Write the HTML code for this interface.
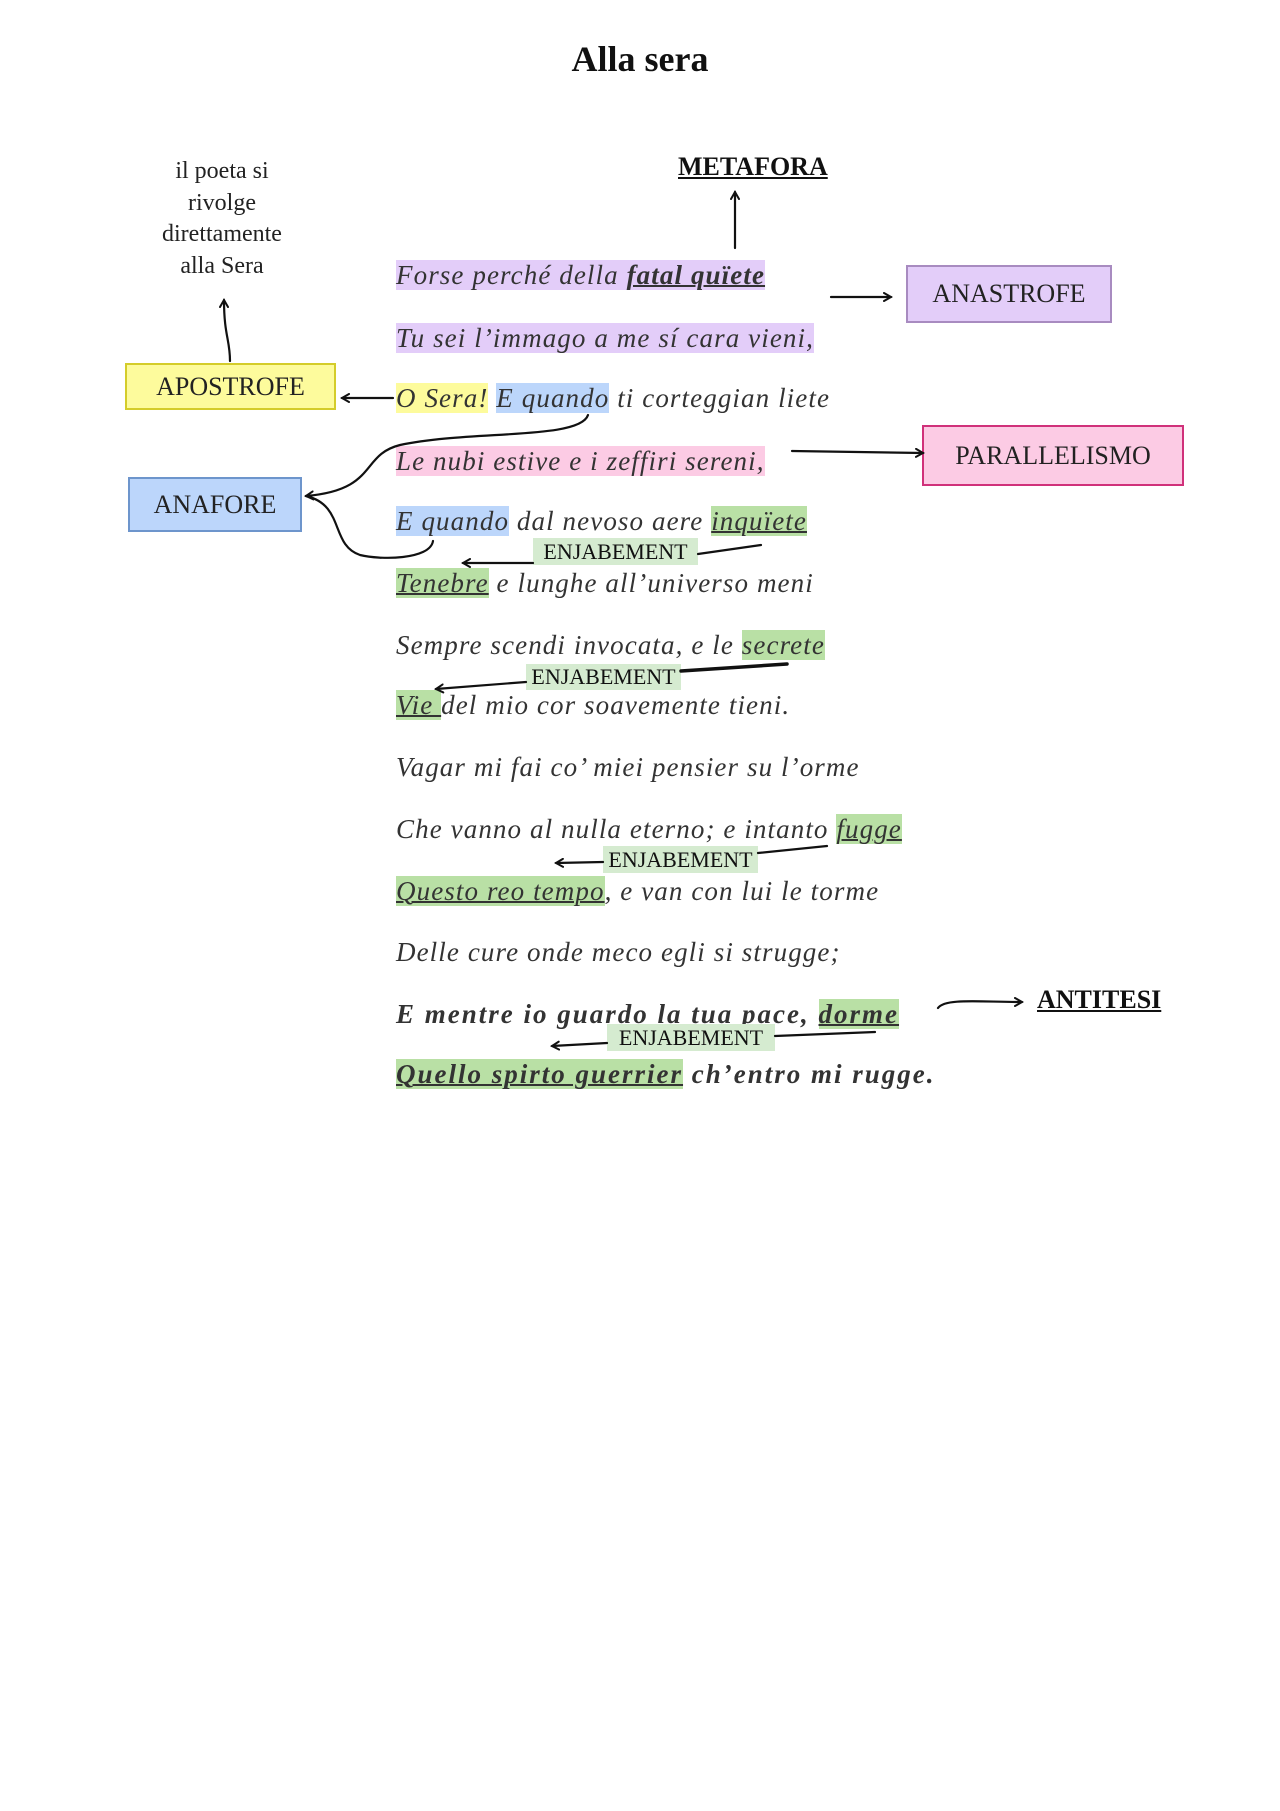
<!DOCTYPE html>
<html><head><meta charset="utf-8"><style>
body{margin:0;background:#fff;}
#p{position:relative;width:1280px;height:1811px;font-family:"Liberation Serif",serif;color:#222;overflow:hidden}
.a{position:absolute;white-space:nowrap}
.l{position:absolute;left:396px;font-style:italic;font-size:27px;letter-spacing:1.1px;line-height:32px;white-space:nowrap;color:#333}
.pu{background:#e3cdf9}.ye{background:#fdfb9c}.bl{background:#bcd6fb}.pk{background:#fccbe4}.gr{background:#b9e0a5}
u{text-decoration-thickness:2px}
.box{position:absolute;display:flex;align-items:center;justify-content:center;font-size:26px;box-sizing:border-box;border:2px solid}
.enj{position:absolute;background:#d5ebd0;font-size:22px;display:flex;align-items:center;justify-content:center;color:#111}
</style></head><body><div id="p">
<div class="a" style="left:0;width:1280px;text-align:center;top:38px;font-size:36px;font-weight:bold;color:#111">Alla sera</div>
<div class="a" style="left:122px;width:200px;text-align:center;top:156px;font-size:24px;line-height:31.5px;white-space:normal;color:#222">il poeta si<br>rivolge<br>direttamente<br>alla Sera</div>
<div class="a" style="left:678px;top:152px;font-size:26px;font-weight:bold;text-decoration:underline;color:#111">METAFORA</div>
<div class="a" style="left:1037px;top:985px;font-size:26px;font-weight:bold;text-decoration:underline;color:#111">ANTITESI</div>

<div class="box" style="left:125px;top:363px;width:211px;height:47px;background:#fdfb9c;border-color:#d4cc2a">APOSTROFE</div>
<div class="box" style="left:128px;top:477px;width:174px;height:55px;background:#bcd6fb;border-color:#6d95cc">ANAFORE</div>
<div class="box" style="left:906px;top:265px;width:206px;height:58px;background:#e3cdf9;border-color:#a88bc0">ANASTROFE</div>
<div class="box" style="left:922px;top:425px;width:262px;height:61px;background:#fccbe4;border-color:#d0317a">PARALLELISMO</div>

<div class="l" style="top:259px"><span class="pu">Forse perché della <b><u>fatal quïete</u></b></span></div>
<div class="l" style="top:322px"><span class="pu">Tu sei l’immago a me sí cara vieni,</span></div>
<div class="l" style="top:382px"><span class="ye">O Sera!</span> <span class="bl">E quando</span> ti corteggian liete</div>
<div class="l" style="top:445px"><span class="pk">Le nubi estive e i zeffiri sereni,</span></div>
<div class="l" style="top:505px"><span class="bl">E quando</span> dal nevoso aere <span class="gr"><u>inquïete</u></span></div>
<div class="l" style="top:567px"><span class="gr"><u>Tenebre</u></span> e lunghe all’universo meni</div>
<div class="l" style="top:629px">Sempre scendi invocata, e le <span class="gr">secrete</span></div>
<div class="l" style="top:689px"><span class="gr"><u>Vie </u></span>del mio cor soavemente tieni.</div>
<div class="l" style="top:751px">Vagar mi fai co’ miei pensier su l’orme</div>
<div class="l" style="top:813px">Che vanno al nulla eterno; e intanto <span class="gr"><u>fugge</u></span></div>
<div class="l" style="top:875px"><span class="gr"><u>Questo reo tempo</u></span>, e van con lui le torme</div>
<div class="l" style="top:936px">Delle cure onde meco egli si strugge;</div>
<div class="l" style="top:998px;font-weight:bold;letter-spacing:2px">E mentre io guardo la tua pace, <span class="gr"><u>dorme</u></span></div>
<div class="l" style="top:1058px;font-weight:bold;letter-spacing:2px"><span class="gr"><u>Quello spirto guerrier</u></span> ch’entro mi rugge.</div>

<div class="enj" style="left:533px;top:538px;width:165px;height:27px">ENJABEMENT</div>
<div class="enj" style="left:526px;top:664px;width:155px;height:26px">ENJABEMENT</div>
<div class="enj" style="left:603px;top:846px;width:155px;height:27px">ENJABEMENT</div>
<div class="enj" style="left:607px;top:1024px;width:168px;height:27px">ENJABEMENT</div>

<svg width="1280" height="1811" style="position:absolute;left:0;top:0" fill="none" stroke="#111" stroke-width="2.2" stroke-linecap="round">
<defs><marker id="m" markerWidth="10" markerHeight="10" refX="8" refY="5" orient="auto" markerUnits="userSpaceOnUse"><path d="M1,1 L8,5 L1,9" stroke="#111" stroke-width="2" fill="none"/></marker></defs>
<path d="M735,248 L735,192" marker-end="url(#m)"/>
<path d="M230,361 C230,340 224,335 224,300" marker-end="url(#m)"/>
<path d="M393,398 L342,398" marker-end="url(#m)"/>
<path d="M831,297 L891,297" marker-end="url(#m)"/>
<path d="M792,451 L923,453" marker-end="url(#m)"/>
<path d="M588,415 C580,440 470,430 400,445 C360,455 378,490 306,496" marker-end="url(#m)"/>
<path d="M433,541 C430,560 380,560 360,555 C330,545 345,505 306,496"/>
<path d="M761,545 L698,554"/><path d="M533,563 L463,563" marker-end="url(#m)"/>
<path d="M787,664 L681,671" stroke-width="3.5"/><path d="M526,682 L436,689" marker-end="url(#m)"/>
<path d="M827,846 L758,853"/><path d="M603,862 L556,863" marker-end="url(#m)"/>
<path d="M875,1032 L775,1036"/><path d="M607,1043 L552,1046" marker-end="url(#m)"/>
<path d="M938,1008 C945,998 980,1002 1022,1002" marker-end="url(#m)"/>
</svg>
</div></body></html>
